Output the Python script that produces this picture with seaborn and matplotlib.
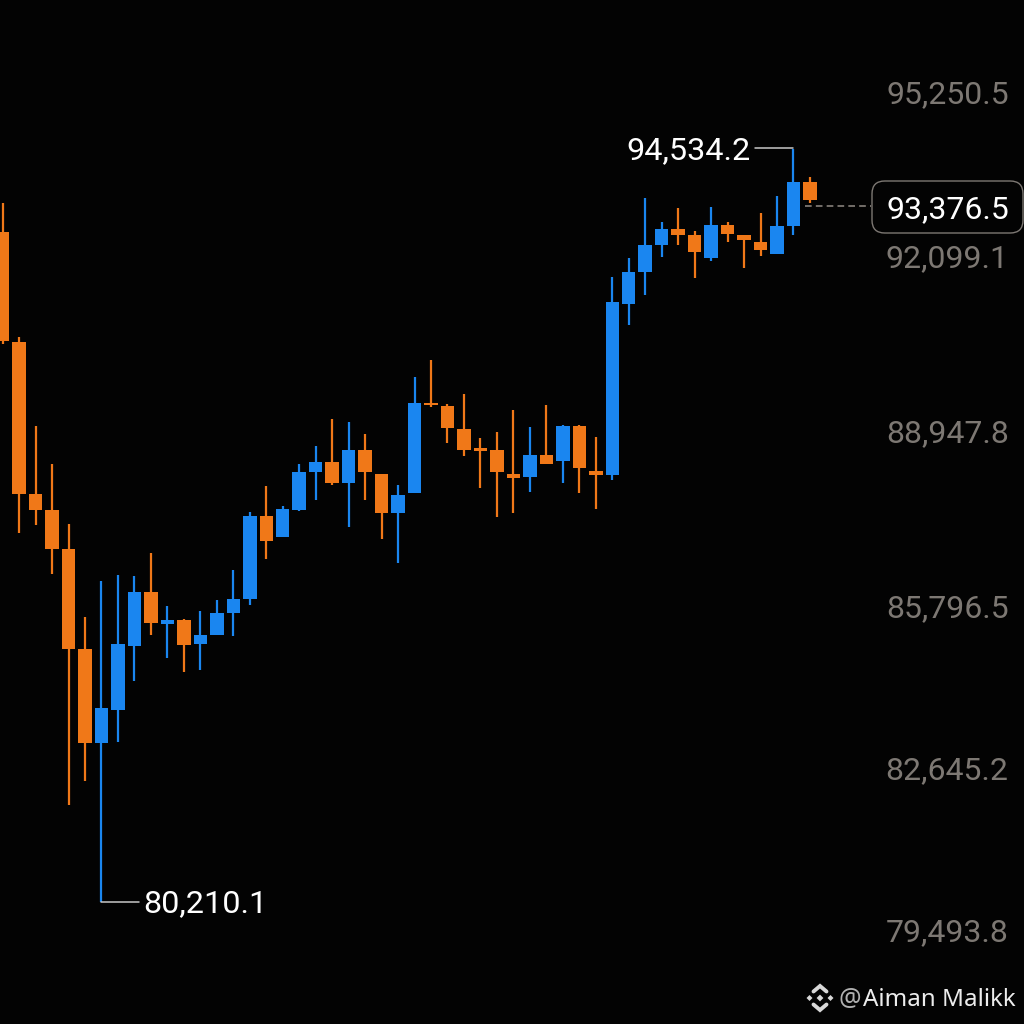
import matplotlib.pyplot as plt
import numpy as np
import pandas as pd
import seaborn as sns
from matplotlib.lines import Line2D
from matplotlib.patches import FancyBboxPatch, Polygon

opens = [92955, 90863, 87971, 87667, 86925, 85023, 83235, 83862, 85080, 86107,
         85498, 85574, 85118, 85289, 85708, 85974, 87553, 87153, 87667, 88390,
         88580, 88181, 88808, 88352, 87610, 87990, 89702, 89645, 89208, 88846,
         88808, 88352, 88295, 88713, 88599, 89265, 88409, 88333, 91586, 92194,
         92708, 93012, 92898, 92461, 93088, 92898, 92765, 92537, 93069, 93906]
closes = [90882, 87971, 87667, 86925, 85023, 83235, 83900, 85118, 86107, 85517,
          85574, 85099, 85289, 85708, 85974, 87553, 87077, 87686, 88390, 88580,
          88181, 88808, 88390, 87610, 87952, 89702, 89664, 89227, 88808, 88789,
          88390, 88276, 88713, 88542, 89265, 88466, 88333, 91624, 92194, 92708,
          93012, 92898, 92575, 93088, 92917, 92803, 92613, 93069, 93906, 93564]
highs = [93507, 90958, 89265, 88542, 87401, 85632, 86316, 86430, 86411, 86849,
         85841, 85593, 85746, 85955, 86526, 87629, 88124, 87743, 88542, 88885,
         89398, 89341, 89113, 88352, 88143, 90197, 90520, 89683, 89874, 89037,
         89151, 89569, 89246, 89664, 89284, 89284, 89056, 92099, 92461, 93602,
         93146, 93412, 92974, 93431, 93146, 92898, 93317, 93640, 94534.2, 94002]
lows = [90825, 87229, 87382, 86450, 82055, 82512, 80210.1, 83254, 84414, 85289,
        84852, 84585, 84623, 85289, 85270, 85860, 86735, 87153, 87648, 87857,
        88143, 87344, 87857, 87115, 86659, 87990, 89626, 88941, 88694, 88085,
        87534, 87610, 88009, 88542, 88181, 87990, 87686, 88238, 91186, 91757,
        92480, 92708, 92080, 92404, 92765, 92270, 92499, 92537, 92898, 93507]

# the printed axis labels are not quite linear, so they get their own heights
tick_labels = ["95,250.5", "92,099.1", "88,947.8", "85,796.5", "82,645.2", "79,493.8"]
tick_heights = [95600, 92480, 89151, 85821, 82740, 79658]
last_price_label = "93,376.5"
last_price_height = 93450

BLUE = "#1a86f0"
ORANGE = "#f07818"
BG = "#030303"
GREY = "#7d7873"
TEXT_DROP = 32  # price units, Roboto sits a little high with va=center

sns.set_theme(style="dark", rc={"figure.facecolor": BG, "axes.facecolor": BG})
plt.rcParams["font.family"] = ["Roboto", "DejaVu Sans"]

df = pd.DataFrame({"i": np.arange(len(opens)), "open": opens, "close": closes,
                   "high": highs, "low": lows})
df["dir"] = np.where(df["close"] > df["open"], "up", "down")
df["bottom"] = df[["open", "close"]].min(axis=1)
df["body"] = (df["close"] - df["open"]).abs()

fig = plt.figure(figsize=(10.24, 10.24), dpi=100)
ax = fig.add_axes([0, 0, 1, 1])

wicks = df.melt(id_vars=["i", "dir"], value_vars=["high", "low"], value_name="price")
sns.lineplot(data=wicks, x="i", y="price", units="i", estimator=None, hue="dir",
             palette={"up": BLUE, "down": ORANGE}, linewidth=1.6, sort=False,
             legend=False, solid_capstyle="butt", ax=ax)

for name, colour in [("up", BLUE), ("down", ORANGE)]:
    part = df[df["dir"] == name]
    sns.barplot(data=part, x="i", y="body", bottom=part["bottom"], native_scale=True,
                width=0.82, color=colour, saturation=1, errorbar=None,
                linewidth=0, zorder=3, ax=ax)

ax.set_xlim(-0.16, 61.99)
ax.set_ylim(77889.4, 97368.6)
ax.set_axis_off()

for label, height in zip(tick_labels, tick_heights):
    ax.text(0.985, height - TEXT_DROP, label, transform=ax.get_yaxis_transform(), ha="right",
            va="center", color=GREY, fontsize=23)

# high and low call-outs
hi = max(highs)
lo = min(lows)
hi_i = highs.index(hi)
lo_i = lows.index(lo)
ax.plot([hi_i - 2.35, hi_i], [hi + 20, hi + 20], color="#c8c8c8", lw=1.1, zorder=2)
ax.plot([lo_i, lo_i + 2.3], [lo, lo], color="#c8c8c8", lw=1.1, zorder=2)
ax.text(hi_i - 2.6, hi - TEXT_DROP, f"{hi:,.1f}", ha="right", va="center", color="white", fontsize=23.3)
ax.text(lo_i + 2.55, lo - TEXT_DROP, f"{lo:,.1f}", ha="left", va="center", color="white", fontsize=23.3)

# last price line and boxed label
ax.plot([48.7, 52.7], [last_price_height] * 2, color="#86817b", lw=1.2, ls=(0, (4, 2.5)))
ax.text(0.926, last_price_height - 2 * TEXT_DROP, last_price_label, transform=ax.get_yaxis_transform(),
        ha="center", va="center", color="white", fontsize=23)

# watermark and box sit in figure fractions
def px(x, y):
    return x / 1024, 1 - y / 1024

box_x, box_y = px(872, 233)
fig.add_artist(FancyBboxPatch((box_x, box_y), 151 / 1024, 52 / 1024, transform=fig.transFigure,
                              boxstyle="round,pad=0,rounding_size=0.0125",
                              fc="none", ec="#7d7873", lw=1))

def diamond(cx, cy, r):
    pts = [px(cx, cy - r), px(cx + r, cy), px(cx, cy + r), px(cx - r, cy)]
    fig.add_artist(Polygon(pts, closed=True, transform=fig.transFigure, fc="#d8d8d8", ec="none"))

icon_x, icon_y = 820, 998
diamond(icon_x - 10.5, icon_y, 3)
diamond(icon_x + 10.5, icon_y, 3)
diamond(icon_x, icon_y, 3.4)
for sign in (-1, 1):
    xs, ys = zip(px(icon_x - 6.5, icon_y + sign * 6.5), px(icon_x, icon_y + sign * 12),
                 px(icon_x + 6.5, icon_y + sign * 6.5))
    fig.add_artist(Line2D(xs, ys, color="#d8d8d8", lw=2.8, solid_joinstyle="miter"))

fig.text(839 / 1024, 1 - 1000 / 1024, "@", color="#b0b0b0", fontsize=18, ha="left",
         va="center", family="Noto Sans")
fig.text(863 / 1024, 1 - 1000 / 1024, "Aiman Malikk", color="#ececec", fontsize=17.4,
         ha="left", va="center", family="Noto Sans", weight="medium")

fig.savefig("out.png", dpi=100, facecolor=BG)
